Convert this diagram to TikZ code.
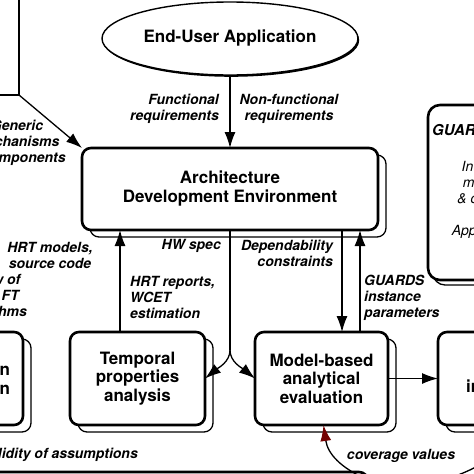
\documentclass[tikz,border=0pt]{standalone}
\usepackage{fontspec}
\setmainfont{TeX Gyre Heros}
\usepackage{tikz}
\usetikzlibrary{shapes.geometric, arrows.meta, positioning, shadows}
\tikzstyle{unit} = [rectangle, rounded corners=9pt, draw=black, line width=2.6pt, fill=white, inner sep=0pt, outer sep=0pt, align=center, font=\fontsize{17}{18.5}\selectfont\bfseries, shadow xshift=8pt, shadow yshift=-7pt, general shadow={fill=white, draw=black, line width=1.3pt}]
\tikzstyle{app} = [ellipse, draw=black, line width=1.4pt, fill=white, inner sep=0pt, outer sep=0pt, minimum width=256pt, minimum height=73pt, font=\fontsize{17}{19}\selectfont\bfseries, shadow xshift=1.2pt, shadow yshift=-1.8pt, general shadow={fill=black}]
\tikzstyle{line} = [draw, line width=1.3pt, -{Latex[length=16pt, width=11pt]}]
\tikzstyle{lbl} = [inner sep=0pt, font=\fontsize{14}{16}\selectfont\bfseries\itshape]

\begin{document}
\begin{tikzpicture}[x=1pt, y=-1pt]
    \useasboundingbox (0,0) rectangle (474,474);
    \clip (0,0) rectangle (474,474);
    % Nodes
    \node [app] (app) at (230,38.5) {End-User Application};
    \node [unit, font=\fontsize{17}{19}\selectfont\bfseries, minimum width=296pt, minimum height=82pt, below=73pt of app] (arch) {Architecture\\Development Environment};
    \node [unit, minimum width=135pt, minimum height=93pt, below=102pt of arch, xshift=-92.5pt] (temporal) {Temporal\\properties\\analysis};
    \node [unit, minimum width=133pt, minimum height=93pt, below=102pt of arch, xshift=91.5pt] (model) {Model-based\\analytical\\evaluation};
    \node [unit, minimum width=126pt, minimum height=93pt, right=50pt of model] (inj) {Fault\\injection};
    \node [unit, align=right, minimum width=132pt, minimum height=93pt, left=47pt of temporal] (verif) {Specification\\verification};
    \node [unit, rounded corners=12pt, minimum width=150pt, minimum height=175pt, right=50pt of arch, yshift=-3.5pt, shadow xshift=5pt, shadow yshift=-5pt] (guards) {};
    \node [draw=black, line width=2pt, fill=white, minimum width=119pt, minimum height=145pt, inner sep=0pt, outer sep=0pt] (lib) at (-40.5,22.5) {};
    \node [unit, minimum width=400pt, minimum height=90pt, anchor=north east] (bench) at (368,472) {};

    % Texts in the GUARDS box
    \node [lbl, font=\fontsize{15}{17}\selectfont\bfseries\itshape, anchor=west] (guardstitle) at (432,132) {GUARDS library};
    \node [inner sep=0pt, align=center, font=\fontsize{14}{16}\selectfont\itshape] (guardstext) at (502,200) {Inter-channel\\mechanisms\\\& components\\[16pt]Application level};

    % Labels
    \node [lbl, align=right, anchor=east] (func) at (219,108.5) {Functional\\requirements};
    \node [lbl, align=center] (nonfunc) at (289,108.5) {Non-functional\\requirements};
    \node [lbl, align=center] (generic) at (17,143) {Generic\\mechanisms\\\& components};
    \node [lbl, align=center] (hrtmod) at (50,255) {HRT models,\\source code};
    \node [lbl, align=left, anchor=east] (review) at (27,297) {Review of\\formal FT\\algorithms};
    \node [lbl, anchor=east] (hwspec) at (221,246) {HW spec};
    \node [lbl, align=left, anchor=west] (hrtrep) at (130,297.5) {HRT reports,\\WCET\\estimation};
    \node [lbl, align=right, anchor=east] (dep) at (333,253.5) {Dependability\\constraints};
    \node [lbl, align=left, anchor=west] (inst) at (364,297.5) {GUARDS\\instance\\parameters};
    \node [lbl, anchor=east] (valid) at (138,455) {Validity of assumptions};
    \node [lbl] (cov) at (401,456) {coverage values};

    % Edges
    \path [line] (app) -- (arch);
    \path [line] (lib.south east) -- (arch.north west);
    \path [line] ([xshift=-17.5pt]temporal.north) -- ([xshift=-17.5pt]temporal.north |- arch.south);
    \path [line] ([xshift=20.5pt]model.north |- arch.south) -- ([xshift=20.5pt]model.north);
    \path [line] ([xshift=38.5pt]model.north) -- ([xshift=38.5pt]model.north |- arch.south);
    \coordinate (split) at (230,350);
    \draw [line width=1.3pt] (arch.south) -- (split);
    \path [line] (split) .. controls (230,362) and (218,368) .. (temporal.east);
    \path [line] (split) .. controls (230,362) and (242,368) .. (model.west);
    \path [line] (model) -- (inj);
    \coordinate (dip) at (412,490);
    \path [line, -{Latex[length=16pt, width=11pt, color=red!45!black]}] (inj.south) .. controls (501,460) and (480,470) .. (dip) .. controls (385,490) and (330,470) .. ([xshift=2pt]model.south);
\end{tikzpicture}
\end{document}
